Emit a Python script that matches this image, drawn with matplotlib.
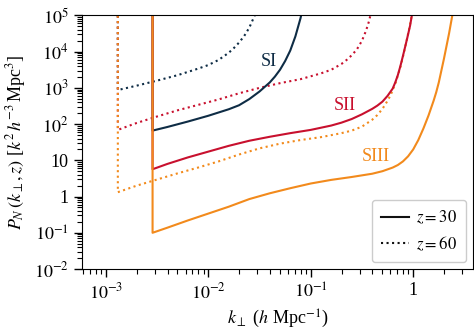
import numpy as np
import matplotlib
matplotlib.use('Agg')
import matplotlib.pyplot as plt
from matplotlib.ticker import LogLocator, FuncFormatter, NullFormatter

plt.rcParams['font.family'] = 'serif'
plt.rcParams['font.serif'] = ['Liberation Serif', 'DejaVu Serif']
plt.rcParams['mathtext.fontset'] = 'stix'
plt.rcParams['font.size'] = 13

# values, as log10(k) and log10(P)
# z = 30 (solid)
k_si_30 = [-2.544, -2.544, -2.4, -2.2, -2.0, -1.9, -1.8, -1.7, -1.6, -1.5, -1.4, -1.35, -1.3, -1.25, -1.2, -1.15,
           -1.1, -1.07]
p_si_30 = [5.5, 1.82, 1.92, 2.07, 2.23, 2.32, 2.41, 2.52, 2.69, 2.90, 3.15, 3.31, 3.50, 3.74, 4.03, 4.42,
           4.92, 5.3]

k_sii_30 = [-2.544, -2.544, -2.4, -2.2, -2.0, -1.8, -1.6, -1.4, -1.2, -1.0, -0.8, -0.7, -0.6, -0.5, -0.4, -0.35,
            -0.3, -0.25, -0.2, -0.175, -0.15, -0.125, -0.1, -0.06, -0.03, -0.01, 0.01]
p_sii_30 = [5.5, 0.754, 0.90, 1.08, 1.24, 1.40, 1.54, 1.65, 1.75, 1.84, 1.96, 2.04, 2.14, 2.27, 2.42, 2.51,
            2.62, 2.78, 2.98, 3.15, 3.35, 3.60, 3.88, 4.35, 4.72, 5.05, 5.3]

k_siii_30 = [-2.544, -2.544, -2.4, -2.2, -2.0, -1.8, -1.6, -1.4, -1.2, -1.0, -0.8, -0.6, -0.4, -0.3, -0.2, -0.15,
             -0.1, -0.05, 0.0, 0.05, 0.1, 0.15, 0.2, 0.225, 0.25, 0.3, 0.35, 0.38, 0.40]
p_siii_30 = [5.5, -1.0, -0.86, -0.66, -0.47, -0.28, -0.07, 0.09, 0.23, 0.36, 0.46, 0.54, 0.63, 0.70, 0.80, 0.87,
             0.97, 1.11, 1.30, 1.56, 1.88, 2.24, 2.65, 2.88, 3.15, 3.80, 4.50, 4.97, 5.3]

# z = 60 (dotted)
k_si_60 = [-2.883, -2.883, -2.7, -2.5, -2.3, -2.1, -2.0, -1.9, -1.8, -1.75, -1.7, -1.65, -1.6, -1.55, -1.52]
p_si_60 = [5.5, 2.94, 3.06, 3.20, 3.35, 3.53, 3.63, 3.77, 3.97, 4.10, 4.25, 4.43, 4.66, 4.98, 5.3]

k_sii_60 = [-2.883, -2.883, -2.7, -2.5, -2.3, -2.1, -1.9, -1.7, -1.5, -1.3, -1.1, -0.9, -0.8, -0.7, -0.65, -0.6,
            -0.55, -0.5, -0.46, -0.43, -0.41, -0.39]
p_sii_60 = [5.5, 1.84, 2.03, 2.21, 2.38, 2.53, 2.68, 2.85, 3.00, 3.13, 3.24, 3.40, 3.50, 3.66, 3.77, 3.90,
            4.06, 4.30, 4.58, 4.85, 5.1, 5.3]

k_siii_60 = [-2.883, -2.883, -2.7, -2.5, -2.3, -2.1, -1.9, -1.7, -1.5, -1.3, -1.1, -0.9, -0.7, -0.6, -0.5, -0.4,
             -0.35, -0.3, -0.26, -0.22, -0.17, -0.12, -0.08, -0.04, -0.015, 0.0]
p_siii_60 = [5.5, 0.12, 0.30, 0.47, 0.64, 0.80, 0.97, 1.16, 1.33, 1.46, 1.56, 1.64, 1.75, 1.82, 1.93, 2.12,
             2.25, 2.42, 2.60, 2.80, 3.15, 3.62, 4.10, 4.62, 4.98, 5.3]

names = ['SI', 'SII', 'SIII']
colors = ['#0e2c45', '#c8102e', '#f28a1c']
label_k = [0.039, 0.214, 0.428]
label_p = [5300, 318, 12.4]

fig = plt.figure(figsize=(4.74, 3.35), dpi=100)
ax = fig.add_axes([0.173, 0.197, 0.824, 0.757])

dotted = [(k_si_60, p_si_60), (k_sii_60, p_sii_60), (k_siii_60, p_siii_60)]
solid = [(k_si_30, p_si_30), (k_sii_30, p_sii_30), (k_siii_30, p_siii_30)]

for (k, p), c in zip(dotted, colors):
    ax.plot(10**np.array(k), 10**np.array(p), color=c, ls=':', lw=1.5)
for (k, p), c in zip(solid, colors):
    ax.plot(10**np.array(k), 10**np.array(p), color=c, ls='-', lw=1.5)

for n, c, kx, py in zip(names, colors, label_k, label_p):
    ax.text(kx, py, n, color=c, ha='center', va='center', fontsize=13)

ax.set_xscale('log')
ax.set_yscale('log')
ax.set_xlim(5.85e-4, 3.8)
ax.set_ylim(1e-2, 1e5)


def fmt(v, pos):
    e = int(round(np.log10(v)))
    if e == 0:
        return '1'
    if e == 1:
        return '10'
    return r'$10^{%d}$' % e


ax.xaxis.set_major_locator(LogLocator(base=10, numticks=20))
ax.yaxis.set_major_locator(LogLocator(base=10, numticks=20))
ax.xaxis.set_minor_locator(LogLocator(base=10, subs=np.arange(2, 10), numticks=20))
ax.yaxis.set_minor_locator(LogLocator(base=10, subs=np.arange(2, 10), numticks=20))
ax.xaxis.set_major_formatter(FuncFormatter(fmt))
ax.yaxis.set_major_formatter(FuncFormatter(fmt))
ax.xaxis.set_minor_formatter(NullFormatter())
ax.yaxis.set_minor_formatter(NullFormatter())
ax.tick_params(which='major', direction='out', length=6, width=1, labelsize=13)
ax.tick_params(which='minor', direction='out', length=3.5, width=0.8)

ax.set_xlabel(r'$k_\perp$ ($h$ Mpc$^{-1}$)', fontsize=13, labelpad=4)
ax.set_ylabel(r'$P_N\,(k_\perp, z)$ [$k^2\,h^{-3}\,$Mpc$^3$]', fontsize=13, labelpad=4)

h1, = ax.plot([], [], color='#111111', ls='-', lw=1.5)
h2, = ax.plot([], [], color='#111111', ls=':', lw=1.5)
ax.legend([h1, h2], [r'$z = 30$', r'$z = 60$'], loc='lower right', fontsize=12,
          handlelength=1.7, handletextpad=0.4, labelspacing=0.5, borderpad=0.55,
          borderaxespad=0.4, framealpha=1.0)

fig.savefig('out.png', dpi=100)
